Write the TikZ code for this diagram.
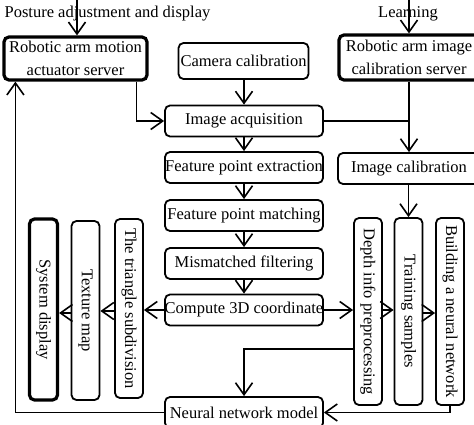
\documentclass[tikz,border=0pt]{standalone}
\usepackage{fontspec}
\setmainfont{Liberation Serif}
\usetikzlibrary{arrows.meta,positioning,calc}
\newcommand{\ctext}[1]{\makebox[0pt]{#1}}

\begin{document}
\begin{tikzpicture}[x=1pt,y=-1pt,
  font=\fontsize{16.5}{23}\selectfont,
  box/.style={draw,line width=1.8pt,rounded corners=5pt,inner sep=0pt,align=center},
  heavy/.style={box,line width=3.2pt},
  stage/.style={box,minimum width=158,minimum height=31},
  vbox/.style={box,rotate=-90,minimum height=28},
  flow/.style={line width=1.6pt,-{Straight Barb[length=12pt,width=17pt,line width=1.6pt]}},
  tag/.style={inner sep=0pt,anchor=base}
]
  \useasboundingbox (0,0) rectangle (474,425);

  \node[tag] (posture) at (107.5,18) {Posture adjustment and display};
  \node[tag] (learn)   at (408,18)   {Learning};
  \coordinate (postin)  at (77,0);
  \coordinate (learnin) at (409,0);

  \node[heavy,minimum width=143,minimum height=43] (mot)    at (75.5,58.5) {Robotic arm motion\\actuator server};
  \node[box,minimum width=130,minimum height=36]   (camcal) at (243.5,61)  {\ctext{Camera calibration}};
  \node[heavy,minimum width=140,minimum height=45] (calsrv) at (409,57.5)  {Robotic arm image\\calibration server};

  \node[stage] (imgacq)   at (244,121)   {Image acquisition};
  \node[stage] (fpext)    at (244,167.5) {\ctext{Feature point extraction}};
  \node[stage] (fpmatch)  at (244,215.5) {\ctext{Feature point matching}};
  \node[stage] (mismatch) at (244,263.5) {\ctext{Mismatched filtering}};
  \node[stage] (comp3d)   at (244,310)   {\ctext{Compute 3D coordinate}};
  \node[stage] (nnm)      at (244,412.5) {\ctext{Neural network model}};
  \node[box,minimum width=142,minimum height=31] (imgcal) at (409,168.5) {Image calibration};

  \node[vbox,minimum width=187] (depth) at (368,311.5)   {\ctext{Depth info preprocessing}};
  \node[vbox,minimum width=187] (train) at (408.5,311.5) {\ctext{Training samples}};
  \node[vbox,minimum width=187] (build) at (450,311.5)   {\ctext{Building a neural network}};
  \node[vbox,minimum width=179] (tri)   at (129,308.5)   {\ctext{The triangle subdivision}};
  \node[vbox,minimum width=179] (tex)   at (85.5,310.5)  {\ctext{Texture map}};
  \node[vbox,heavy,minimum width=181] (sysd) at (43.5,309.5) {\ctext{System display}};

  \draw[flow] (postin) -- (postin |- mot.north);
  \draw[flow] (learnin) -- (learnin |- calsrv.north);
  \draw[flow] ($(mot.south east)+(-12,0)$) |- (imgacq.west);
  \draw[flow] (calsrv.south) -- (calsrv.south |- imgcal.north);
  \draw[line width=1.6pt] (imgacq.east) -- (imgacq.east -| calsrv.south);
  \foreach \a/\b in {camcal/imgacq,imgacq/fpext,fpext/fpmatch,fpmatch/mismatch,mismatch/comp3d}
    \draw[flow] (\a.south -| \b.north) -- (\b.north);
  \draw[flow] (train.west |- imgcal.south) -- (train.west);

  \draw[flow] (comp3d.east) -- (comp3d.east -| depth.south);
  \draw[flow] (depth.north |- 0,310) -- (train.south |- 0,310);
  \draw[flow] (train.north |- 0,313) -- (build.south |- 0,313);
  \draw[flow] (comp3d.west) -- (comp3d.west -| tri.north);
  \draw[flow] (tri.south |- 0,311) -- (tex.north |- 0,311);
  \draw[flow] (tex.south |- 0,313) -- (sysd.north |- 0,313);

  \draw[flow] (depth.south |- 0,349) -| (nnm.north);
  \draw[flow] (build.east) |- (nnm.east);
  \draw[flow] (nnm.west) -| ($(mot.south west)+(13,0)$);
\end{tikzpicture}
\end{document}
